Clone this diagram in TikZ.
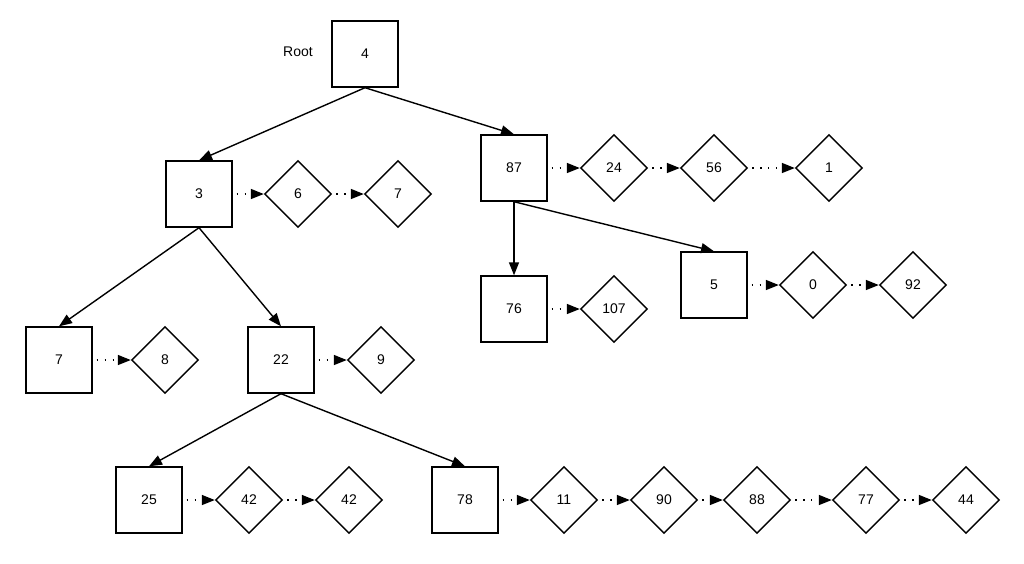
\documentclass[tikz,border=0pt]{standalone}
\usepackage{fontspec}
\setmainfont{Liberation Sans}
\usetikzlibrary{shapes.geometric, arrows.meta}

\begin{document}
\begin{tikzpicture}[x=1pt, y=-1pt,
        every node/.style={font=\fontsize{14}{16}\selectfont},
        sq/.style={draw, line width=1.4pt, minimum size=66pt, inner sep=0pt},
        dm/.style={draw, diamond, line width=1.4pt, minimum size=67pt, inner sep=0pt},
        branch/.style={line width=1.4pt, -{Triangle[length=13pt, width=10pt]}},
        link/.style={line width=1.4pt, dash pattern=on 1.4pt off 6.5pt, dash phase=-4pt, -{Triangle[length=13pt, width=10pt]}}]
        \useasboundingbox (0, 0) rectangle (1024, 563);

        % tree nodes
        \node (root) at (298, 52) {Root};
        \node[sq] (s4) at (365, 54) {4};
        \node[sq] (s3) at (199, 194) {3};
        \node[sq] (s87) at (514, 168) {87};
        \node[sq] (s7) at (59, 360) {7};
        \node[sq] (s22) at (281, 360) {22};
        \node[sq] (s76) at (514, 309) {76};
        \node[sq] (s5) at (714, 285) {5};
        \node[sq] (s25) at (149, 500) {25};
        \node[sq] (s78) at (465, 500) {78};

        % lists
        \node[dm] (d6) at (298, 194) {6};
        \node[dm] (d7) at (398, 194) {7};
        \node[dm] (d24) at (614, 168) {24};
        \node[dm] (d56) at (714, 168) {56};
        \node[dm] (d1) at (829, 168) {1};
        \node[dm] (d107) at (614, 309) {107};
        \node[dm] (d0) at (813, 285) {0};
        \node[dm] (d92) at (913, 285) {92};
        \node[dm] (d8) at (165, 360) {8};
        \node[dm] (d9) at (381, 360) {9};
        \node[dm] (d42a) at (249, 500) {42};
        \node[dm] (d42b) at (349, 500) {42};
        \node[dm] (d11) at (564, 500) {11};
        \node[dm] (d90) at (664, 500) {90};
        \node[dm] (d88) at (757, 500) {88};
        \node[dm] (d77) at (866, 500) {77};
        \node[dm] (d44) at (966, 500) {44};

        \draw[branch] (s4.south) -- (s3.north);
        \draw[branch] (s4.south) -- (s87.north);
        \draw[branch] (s3.south) -- (s7.north);
        \draw[branch] (s3.south) -- (s22.north);
        \draw[branch] (s22.south) -- (s25.north);
        \draw[branch] (s22.south) -- (s78.north);
        \draw[branch] (s87.south) -- (s76.north);
        \draw[branch] (s87.south) -- (s5.north);

        \draw[link] (s3) -- (d6);
        \draw[link] (d6) -- (d7);
        \draw[link] (s87) -- (d24);
        \draw[link] (d24) -- (d56);
        \draw[link] (d56) -- (d1);
        \draw[link] (s76) -- (d107);
        \draw[link] (s5) -- (d0);
        \draw[link] (d0) -- (d92);
        \draw[link] (s7) -- (d8);
        \draw[link] (s22) -- (d9);
        \draw[link] (s25) -- (d42a);
        \draw[link] (d42a) -- (d42b);
        \draw[link] (s78) -- (d11);
        \draw[link] (d11) -- (d90);
        \draw[link] (d90) -- (d88);
        \draw[link] (d88) -- (d77);
        \draw[link] (d77) -- (d44);
    \end{tikzpicture}
\end{document}
